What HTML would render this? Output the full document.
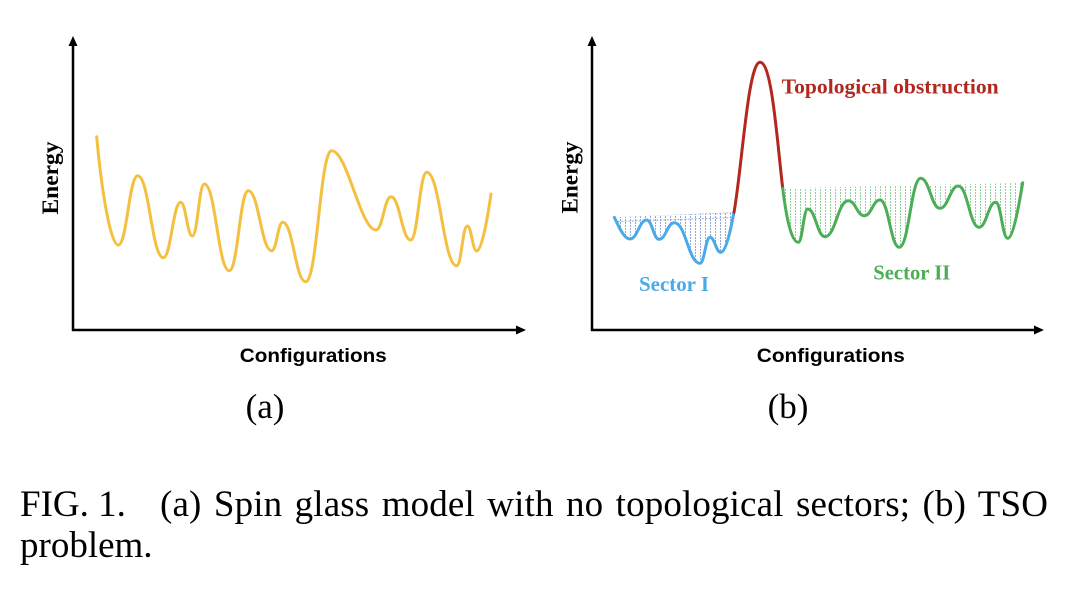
<!DOCTYPE html>
<html>
<head>
<meta charset="utf-8">
<style>
  html, body { margin: 0; padding: 0; background: #ffffff; }
  svg { display: block; }
</style>
</head>
<body>
<svg width="1080" height="608" viewBox="0 0 1080 608" xmlns="http://www.w3.org/2000/svg">
  <defs>
    <pattern id="vb" patternUnits="userSpaceOnUse" x="615" y="0" width="5" height="3">
      <rect x="0" y="0" width="1" height="2" fill="#93a8d8"/>
    </pattern>
    <pattern id="vg" patternUnits="userSpaceOnUse" x="785" y="0" width="5" height="3">
      <rect x="0" y="0" width="1" height="2" fill="#8fd19b"/>
    </pattern>
    <clipPath id="clipB">
      <path d="M614.3,217.3 C619,227 624,239 630,239
        C637.5,239 639.2,220 646.7,220
        C652.2,220 653.5,239.3 659,239.3
        C665.9,239.3 667.4,222.7 674.3,222.7
        C685.9,222.7 688.4,263.3 700,263.3
        C704.5,263.3 705.5,237.3 710,237.3
        C714.8,237.3 715.9,252.3 720.7,252.3
        C726,252.3 731,228 734,212.3 Z"/>
    </clipPath>
    <clipPath id="topG">
      <polygon points="782.7,188.3 1022.7,182.7 1022.7,300 782.7,300"/>
    </clipPath>
  </defs>

  <!-- ===== Panel (a) ===== -->
  <g stroke="#000" stroke-width="2.5" fill="none">
    <line x1="73" y1="331" x2="73" y2="44"/>
    <line x1="72" y1="330" x2="518" y2="330"/>
  </g>
  <polygon points="73,36 68.5,46 77.5,46" fill="#000"/>
  <polygon points="526,330 516,325.5 516,334.5" fill="#000"/>

  <path d="M96.7,136.7 C101,185 110,245 118.3,245
    C127.0,245 129.0,175.7 137.7,175.7
    C149.2,175.7 151.8,257.7 163.3,257.7
    C171.1,257.7 172.9,202.3 180.7,202.3
    C185.9,202.3 187.1,236 192.3,236
    C197.7,236 198.9,184 204.3,184
    C215.6,184 218.1,270.7 229.3,270.7
    C237.9,270.7 239.8,190.7 248.3,190.7
    C258.8,190.7 261.2,250.7 271.7,250.7
    C276.7,250.7 277.8,222.3 282.7,222.3
    C293.1,222.3 295.4,281.7 305.7,281.7
    C317.4,281.7 320.0,150.7 331.7,150.7
    C347.2,150.7 360.5,230 376,230
    C382.8,230 384.3,196.7 391,196.7
    C399.9,196.7 401.8,240 410.7,240
    C417.9,240 419.5,172.3 426.7,172.3
    C440.2,172.3 443.2,265.7 456.7,265.7
    C461.5,265.7 462.5,226 467.3,226
    C471.5,226 472.5,251 476.7,251
    C482,251 488,215 491,194"
    fill="none" stroke="#f4c040" stroke-width="3" stroke-linecap="round" stroke-linejoin="round"/>

  <text x="58" y="178" transform="rotate(-90 58 178)" text-anchor="middle"
        font-family="Liberation Serif, serif" font-weight="bold" font-size="23"
        textLength="73" lengthAdjust="spacingAndGlyphs" fill="#000">Energy</text>
  <text x="313.3" y="362" text-anchor="middle"
        font-family="Liberation Sans, sans-serif" font-weight="bold" font-size="19"
        textLength="147" lengthAdjust="spacingAndGlyphs" fill="#000">Configurations</text>
  <text x="265" y="418" text-anchor="middle"
        font-family="Liberation Serif, serif" font-size="35" fill="#000">(a)</text>

  <!-- ===== Panel (b) ===== -->
  <g stroke="#000" stroke-width="2.5" fill="none">
    <line x1="592" y1="331" x2="592" y2="44"/>
    <line x1="591" y1="330" x2="1036" y2="330"/>
  </g>
  <polygon points="592,36 587.5,46 596.5,46" fill="#000"/>
  <polygon points="1044,330 1034,325.5 1034,334.5" fill="#000"/>

  <!-- blue hatch -->
  <g clip-path="url(#clipB)">
    <rect x="610" y="205" width="130" height="65" fill="url(#vb)"/>
    <line x1="614.3" y1="216.6" x2="734" y2="212.6" stroke="#93a8d8" stroke-width="1" stroke-dasharray="2,1.5"/>
    <line x1="614.3" y1="221.6" x2="734" y2="217.6" stroke="#93a8d8" stroke-width="1" stroke-dasharray="2,1.5"/>
  </g>
  <!-- green hatch -->
  <g clip-path="url(#topG)">
    <path d="M782.7,188.3 C786,215 791,242.3 798.3,242.3
      C802.5,242.3 803.5,209 807.7,209
      C815.5,209 817.2,236.7 825,236.7
      C835.5,236.7 837.8,200.7 848.3,200.7
      C855.5,200.7 857.1,215.7 864.3,215.7
      C871.4,215.7 872.9,200 880,200
      C888.7,200 890.6,247.3 899.3,247.3
      C908.9,247.3 911.1,178.3 920.7,178.3
      C929.4,178.3 931.3,208.3 940,208.3
      C948.2,208.3 950.1,186 958.3,186
      C967.6,186 969.7,227.3 979,227.3
      C986.5,227.3 988.2,202.3 995.7,202.3
      C1001.1,202.3 1002.3,238.3 1007.7,238.3
      C1013,238.3 1019,205 1022.7,182.7 Z" fill="url(#vg)"/>
  </g>

  <!-- blue curve -->
  <path d="M614.3,217.3 C619,227 624,239 630,239
    C637.5,239 639.2,220 646.7,220
    C652.2,220 653.5,239.3 659,239.3
    C665.9,239.3 667.4,222.7 674.3,222.7
    C685.9,222.7 688.4,263.3 700,263.3
    C704.5,263.3 705.5,237.3 710,237.3
    C714.8,237.3 715.9,252.3 720.7,252.3
    C726,252.3 731,228 734,212.3"
    fill="none" stroke="#4aa9e8" stroke-width="3" stroke-linecap="round" stroke-linejoin="round"/>
  <!-- red curve -->
  <path d="M734,212.3 C742,168 748,62.3 760,62.3 C772,62.3 777,140 782.7,188.3"
    fill="none" stroke="#b3271e" stroke-width="3" stroke-linecap="round"/>
  <!-- green curve -->
  <path d="M782.7,188.3 C786,215 791,242.3 798.3,242.3
    C802.5,242.3 803.5,209 807.7,209
    C815.5,209 817.2,236.7 825,236.7
    C835.5,236.7 837.8,200.7 848.3,200.7
    C855.5,200.7 857.1,215.7 864.3,215.7
    C871.4,215.7 872.9,200 880,200
    C888.7,200 890.6,247.3 899.3,247.3
    C908.9,247.3 911.1,178.3 920.7,178.3
    C929.4,178.3 931.3,208.3 940,208.3
    C948.2,208.3 950.1,186 958.3,186
    C967.6,186 969.7,227.3 979,227.3
    C986.5,227.3 988.2,202.3 995.7,202.3
    C1001.1,202.3 1002.3,238.3 1007.7,238.3
    C1013,238.3 1019,205 1022.7,182.7"
    fill="none" stroke="#4cad57" stroke-width="3" stroke-linecap="round" stroke-linejoin="round"/>

  <text x="781.7" y="93.3" font-family="Liberation Serif, serif" font-weight="bold" font-size="21"
        textLength="217" lengthAdjust="spacingAndGlyphs" fill="#b0281f">Topological obstruction</text>
  <text x="639" y="291" font-family="Liberation Serif, serif" font-weight="bold" font-size="21"
        textLength="70" lengthAdjust="spacingAndGlyphs" fill="#4aa9e8">Sector I</text>
  <text x="873.3" y="279.3" font-family="Liberation Serif, serif" font-weight="bold" font-size="21"
        textLength="77" lengthAdjust="spacingAndGlyphs" fill="#4cad57">Sector II</text>

  <text x="577.7" y="177.5" transform="rotate(-90 577.7 177.5)" text-anchor="middle"
        font-family="Liberation Serif, serif" font-weight="bold" font-size="23"
        textLength="72" lengthAdjust="spacingAndGlyphs" fill="#000">Energy</text>
  <text x="830.8" y="362" text-anchor="middle"
        font-family="Liberation Sans, sans-serif" font-weight="bold" font-size="19"
        textLength="148" lengthAdjust="spacingAndGlyphs" fill="#000">Configurations</text>
  <text x="788" y="418" text-anchor="middle"
        font-family="Liberation Serif, serif" font-size="35" fill="#000">(b)</text>

  <!-- ===== Caption ===== -->
  <text x="20" y="516" font-family="Liberation Serif, serif" font-size="37" fill="#000">FIG. 1.</text>
  <text x="160" y="516" font-family="Liberation Serif, serif" font-size="37" fill="#000"
        word-spacing="3" textLength="888" lengthAdjust="spacing">(a) Spin glass model with no topological sectors; (b) TSO</text>
  <text x="20" y="557" font-family="Liberation Serif, serif" font-size="37" fill="#000">problem.</text>
</svg>
</body>
</html>
